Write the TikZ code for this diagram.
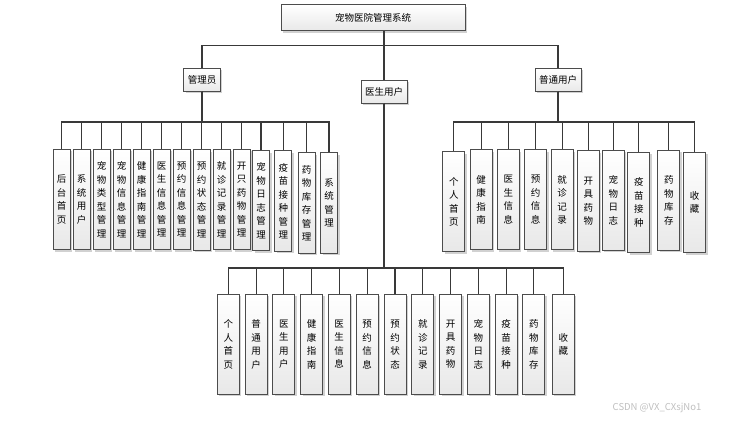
\documentclass[tikz,border=0pt]{standalone}
\usepackage{fontspec}
\setmainfont{Noto Sans CJK SC}
\usetikzlibrary{positioning,shadows}

\begin{document}
\begin{tikzpicture}[x=1pt, y=-1pt,
    box/.style={rectangle, draw=gray!60!black, line width=1pt,
      top color=white, bottom color=gray!18,
      drop shadow={shadow xshift=2pt, shadow yshift=-2pt, fill=gray!60, opacity=.6},
      font=\fontsize{9.5}{13.5}\selectfont, align=center, inner sep=0pt},
    root/.style={box, minimum width=184pt, minimum height=26pt},
    role/.style={box, minimum height=23pt, inner xsep=4pt},
    leaf/.style={box, minimum width=17pt, minimum height=100pt},
    wleaf/.style={box, minimum width=22pt, minimum height=100pt},
    link/.style={draw=gray!45!black, line width=1.1pt}]
    \useasboundingbox (0,0) rectangle (730,422);

    \node [root] (sys) at (373,18) {宠物医院管理系统};

    \node [role] (admin) at (202,80) {管理员};
    \node [role] (doctor) at (384,92) {医生用户};
    \node [role] (user) at (558,80) {普通用户};

    % admin
    \node [leaf] (a_1) at (61.7,199.5) {后\\台\\首\\页};
    \node [leaf] (a_2) at (81.7,199.5) {系\\统\\用\\户};
    \node [leaf] (a_3) at (101.7,199.5) {宠\\物\\类\\型\\管\\理};
    \node [leaf] (a_4) at (121.7,199.5) {宠\\物\\信\\息\\管\\理};
    \node [leaf] (a_5) at (141.7,199.5) {健\\康\\指\\南\\管\\理};
    \node [leaf] (a_6) at (161.7,199.5) {医\\生\\信\\息\\管\\理};
    \node [leaf] (a_7) at (181.7,199.5) {预\\约\\信\\息\\管\\理};
    \node [leaf] (a_8) at (201.7,200) {预\\约\\状\\态\\管\\理};
    \node [leaf] (a_9) at (221.7,199.5) {就\\诊\\记\\录\\管\\理};
    \node [leaf] (a_10) at (241.7,199.5) {开\\只\\药\\物\\管\\理};
    \node [leaf] (a_11) at (261,200.7) {宠\\物\\日\\志\\管\\理};
    \node [leaf] (a_12) at (283.3,201) {疫\\苗\\接\\种\\管\\理};
    \node [leaf] (a_13) at (306.7,203) {药\\物\\库\\存\\管\\理};
    \node [leaf] (a_14) at (329,203) {系\\统\\管\\理};

    % user
    \node [wleaf] (u_1) at (453.8,201.7) {个\\人\\首\\页};
    \node [wleaf] (u_2) at (481.2,199.7) {健\\康\\指\\南};
    \node [wleaf] (u_3) at (508.3,199.7) {医\\生\\信\\息};
    \node [wleaf] (u_4) at (535.5,199.7) {预\\约\\信\\息};
    \node [wleaf] (u_5) at (562.2,199.7) {就\\诊\\记\\录};
    \node [wleaf] (u_6) at (588.3,201) {开\\具\\药\\物};
    \node [wleaf] (u_7) at (613.3,200.3) {宠\\物\\日\\志};
    \node [wleaf] (u_8) at (638.8,202.5) {疫\\苗\\接\\种};
    \node [wleaf] (u_9) at (668.8,200.3) {药\\物\\库\\存};
    \node [wleaf] (u_10) at (694.5,202.5) {收\\藏};

    % doctor
    \node [wleaf] (d_1) at (228.3,344.3) {个\\人\\首\\页};
    \node [wleaf] (d_2) at (256.2,344.3) {普\\通\\用\\户};
    \node [wleaf] (d_3) at (283.8,344.3) {医\\生\\用\\户};
    \node [wleaf] (d_4) at (311.7,344.3) {健\\康\\指\\南};
    \node [wleaf] (d_5) at (339.2,344.3) {医\\生\\信\\息};
    \node [wleaf] (d_6) at (367.2,344.3) {预\\约\\信\\息};
    \node [wleaf] (d_7) at (395,344.3) {预\\约\\状\\态};
    \node [wleaf] (d_8) at (422.8,344.3) {就\\诊\\记\\录};
    \node [wleaf] (d_9) at (450.5,344.3) {开\\具\\药\\物};
    \node [wleaf] (d_10) at (478.3,344.3) {宠\\物\\日\\志};
    \node [wleaf] (d_11) at (506.2,344.3) {疫\\苗\\接\\种};
    \node [wleaf] (d_12) at (533.8,344.3) {药\\物\\库\\存};
    \node [wleaf] (d_13) at (563.3,344.3) {收\\藏};

    \node [text=gray!50, font=\fontsize{9.5}{11}\selectfont] (mark) at (657,408) {CSDN @VX\_CXsjNo1};

    % links
    \path [link] (sys.south -| doctor.north) -- (doctor.north);
    \path [link] (sys.south -| doctor.north) ++(0,14) -| (admin.north);
    \path [link] (sys.south -| doctor.north) ++(0,14) -| (user.north);
    \foreach \i in {1,...,14}
      \path [link] (admin.south) -- ++(0,30) -| (a_\i.north);
    \foreach \i in {1,...,10}
      \path [link] (user.south) -- ++(0,30) -| (u_\i.north);
    \foreach \i in {1,...,13}
      \path [link] (doctor.south) -- ++(0,164) -| (d_\i.north);

\end{tikzpicture}
\end{document}
